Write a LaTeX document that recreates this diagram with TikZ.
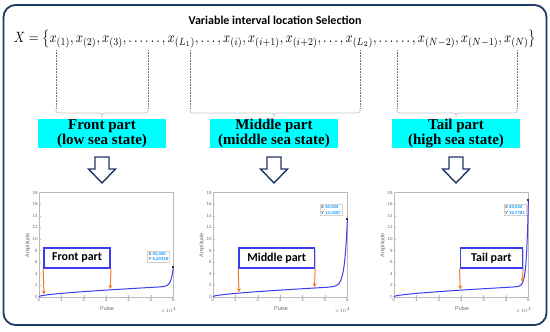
\documentclass[tikz,border=0pt]{standalone}
\usepackage{fontspec}
\usepackage{graphicx}
\setmainfont{Liberation Serif}
\newfontfamily\calibri{Carlito}
\newfontfamily\arialf{Liberation Sans}
\usetikzlibrary{arrows.meta, positioning, shadows}

\definecolor{framenavy}{HTML}{1F3864}
\definecolor{partcyan}{HTML}{00FFFF}
\definecolor{curveblue}{HTML}{3C3CF2}
\definecolor{tipblue}{HTML}{1E9BFF}
\definecolor{markorange}{HTML}{ED7D31}
\definecolor{bracegray}{HTML}{C8C8C8}

% brace under the sample set: left x, tip x, right x
\newcommand{\selbrace}[3]{%
  \draw[dotline] (#1,50) -- (#1,108);
  \draw[dotline] (#3,50) -- (#3,108);
  \draw[braceline] (#1,108) .. controls (#1,113) .. ({#1+6},113) -- ({#2-6},113)
    .. controls (#2,113) .. (#2,118) .. controls (#2,113) .. ({#2+6},113)
    -- ({#3-6},113) .. controls (#3,113) .. (#3,108);}

\begin{document}
\begin{tikzpicture}[x=1pt, y=-1pt,
    declare function={amp(\s,\a,\b)=0.45*sqrt(\s)+0.12*\s+\a*exp(\b*(\s-6));},
    frameline/.style={draw=framenavy, line width=1.8pt, rounded corners=12pt},
    seltitle/.style={font=\calibri\bfseries\fontsize{12}{14}\selectfont, inner sep=0pt},
    partbox/.style={fill=partcyan, minimum width=128pt, minimum height=29pt, inner sep=0pt, align=center, font=\bfseries\fontsize{15}{15.5}\selectfont},
    dotline/.style={densely dotted, draw=gray!85!black, line width=0.6pt},
    braceline/.style={draw=bracegray, line width=0.8pt},
    blockarrow/.style={draw=framenavy, line width=1.4pt, fill=white, line join=miter},
    axisline/.style={draw=gray!55, line width=0.35pt},
    ticklabel/.style={font=\arialf\fontsize{4.5}{5}\selectfont, text=gray!90!black, inner sep=1.2pt},
    axislabel/.style={font=\arialf\fontsize{5.5}{6}\selectfont, text=gray!85!black, inner sep=0pt},
    curveline/.style={draw=curveblue, line width=1pt},
    partlabel/.style={draw=curveblue, line width=1.5pt, fill=white, minimum height=20pt, inner sep=0pt, font=\calibri\bfseries\fontsize{12}{14}\selectfont, drop shadow={shadow xshift=1.2pt, shadow yshift=-1.2pt, opacity=0.35}},
    markarrow/.style={-{Stealth[length=4pt, width=4pt]}, draw=markorange, line width=1pt},
    datatip/.style={draw=gray!35, fill=white, align=left, inner sep=1.2pt, font=\arialf\fontsize{4.3}{5.2}\selectfont}
  ]
  \useasboundingbox (0,0) rectangle (550,332);
  \fill[white] (0,0) rectangle (550,332);

  % Frame
  \draw[frameline] (3.5,5) rectangle (546.5,325);

  % Title and sample set
  \node[seltitle] (title) at (275,20) {Variable interval location Selection};
  \node[inner sep=0pt] (setx) at (275,39) {\resizebox*{522pt}{18pt}{$X=\left\{x_{(1)},x_{(2)},x_{(3)},\ldots\ldots,x_{(L_1)},\ldots,x_{(i)},x_{(i+1)},x_{(i+2)},\ldots,x_{(L_2)},\ldots\ldots,x_{(N-2)},x_{(N-1)},x_{(N)}\right\}$}};

  % Braces
  \selbrace{56}{102}{148}
  \selbrace{190}{274}{360}
  \selbrace{397}{456}{517}

  % Parts
  \node[partbox] (front) at (102,133.5) {Front part\\(low sea state)};
  \node[partbox] (middle) at (274,133.5) {Middle part\\(middle sea state)};
  \node[partbox] (tail) at (456,133.5) {Tail part\\(high sea state)};

  % Block arrows
  \foreach \cx in {102,274,456}
    \draw[blockarrow] ({\cx-7},157) -- ++(14,0) -- ++(0,12) -- ++(6.5,0) -- (\cx,183)
      -- ({\cx-13.5},169) -- ++(6.5,0) -- cycle;

  % Plots
  \foreach \n/\ox/\kk/\rr/\tip/\ax/\bx/\dtx/\dty/\lab in {
      1/39/3.38/10/5.20338/0.22/3.18/5.33/6.95/Front part,
      2/213/11.62/8/13.4387/1.16/4.53/5.27/15/Middle part,
      3/394/14.96/12/16.7781/2.96/5.73/5.4/15/Tail part} {
    \begin{scope}[shift={(\ox,296.7)}, x=22.4pt, y=5.78pt]
      \draw[axisline] (0,0) rectangle (6,18);
      \foreach \t in {0,...,6} {
        \draw[axisline] (\t,0) -- ++(0,0.35);
        \node[ticklabel, below] at (\t,0) {\t};
      }
      \foreach \v in {0,2,...,18} {
        \draw[axisline] (0,\v) -- ++(0.09,0);
        \node[ticklabel, left] at (0,\v) {\v};
      }
      \node[axislabel] (pulse\n) at (3.04,-2.13) {Pulse};
      \node[axislabel, rotate=90] (ampl\n) at (-0.49,8.9) {Amplitude};
      \node[ticklabel] (scale\n) at (5.78,-2.3) {${\times}10^{4}$};
      \draw[curveline] plot[domain=0:6, samples=160] (\x,{amp(\x,\kk,\rr)});
      \fill[black!80] (6,\tip) ++(-1pt,-1pt) rectangle ++(2pt,2pt);
      \node[datatip] (tip\n) at (\dtx,\dty) {X \textcolor{tipblue}{\textbf{60,000}}\\Y \textcolor{tipblue}{\textbf{\tip}}};
      \pgfmathsetmacro\lx{(\ax+\bx)/2}
      \pgfmathsetmacro\lw{(\bx-\ax)*22.4}
      \node[partlabel, minimum width=\lw pt] (lab\n) at (\lx,6.7) {\lab};
      \coordinate (hitA\n) at (\ax,{amp(\ax,\kk,\rr)+0.15});
      \coordinate (hitB\n) at (\bx,{amp(\bx,\kk,\rr)+0.15});
      \draw[markarrow] (lab\n.south west) -- (hitA\n);
      \draw[markarrow] (lab\n.south east) -- (hitB\n);
    \end{scope}
  }
\end{tikzpicture}
\end{document}
